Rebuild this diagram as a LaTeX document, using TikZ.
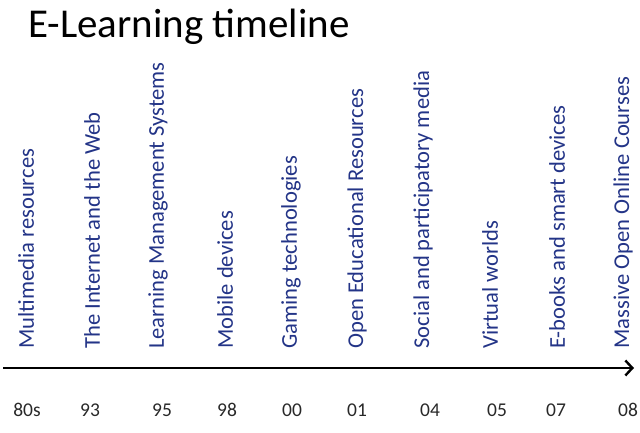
\documentclass[tikz,border=0pt]{standalone}
\usepackage{fontspec}
\setmainfont{Carlito}
\usetikzlibrary{arrows.meta}
\definecolor{eventblue}{RGB}{35,52,135}
\definecolor{yeargray}{RGB}{40,40,40}

\begin{document}
\begin{tikzpicture}[x=1pt,y=1pt]
\tikzset{
  titletext/.style={anchor=base west,inner sep=0pt,font=\fontsize{41}{48}\selectfont},
  eventlabel/.style={rotate=90,anchor=west,inner sep=0pt,text=eventblue,font=\fontsize{22.6}{27}\selectfont},
  yearlabel/.style={anchor=base,inner sep=0pt,text=yeargray,font=\fontsize{19.5}{23}\selectfont},
  timearrow/.style={draw=black,line width=2.4pt,-{Straight Barb[length=7pt,width=15pt,line width=2.4pt]}}
}
\useasboundingbox (0,0) rectangle (640,433);
\node[titletext] (title) at (28,395) {E-Learning timeline};
% events
\node[eventlabel] (e_multi) at (26,84) {Multimedia resources};
\node[eventlabel] (e_web) at (92,84) {The Internet and the Web};
\node[eventlabel] (e_lms) at (158,84) {Learning Management Systems};
\node[eventlabel] (e_mobile) at (225,84) {Mobile devices};
\node[eventlabel] (e_game) at (291,84) {Gaming technologies};
\node[eventlabel] (e_oer) at (357,84) {Open Educational Resources};
\node[eventlabel] (e_social) at (423,84) {Social and participatory media};
\node[eventlabel] (e_virtual) at (490,84) {Virtual worlds};
\node[eventlabel] (e_ebook) at (557,84) {E-books and smart devices};
\node[eventlabel] (e_mooc) at (623,84) {Massive Open Online Courses};
% years
\node[yearlabel] (y_80s) at (27,16) {80s};
\node[yearlabel] (y_93) at (90,16) {93};
\node[yearlabel] (y_95) at (162,16) {95};
\node[yearlabel] (y_98) at (227,16) {98};
\node[yearlabel] (y_00) at (292,16) {00};
\node[yearlabel] (y_01) at (357,16) {01};
\node[yearlabel] (y_04) at (430,16) {04};
\node[yearlabel] (y_05) at (497,16) {05};
\node[yearlabel] (y_07) at (556,16) {07};
\node[yearlabel] (y_08) at (628,16) {08};
% axis
\coordinate (t_start) at (3,65);
\coordinate (t_end) at (634,65);
\draw[timearrow] (t_start) -- (t_end);
\end{tikzpicture}
\end{document}
